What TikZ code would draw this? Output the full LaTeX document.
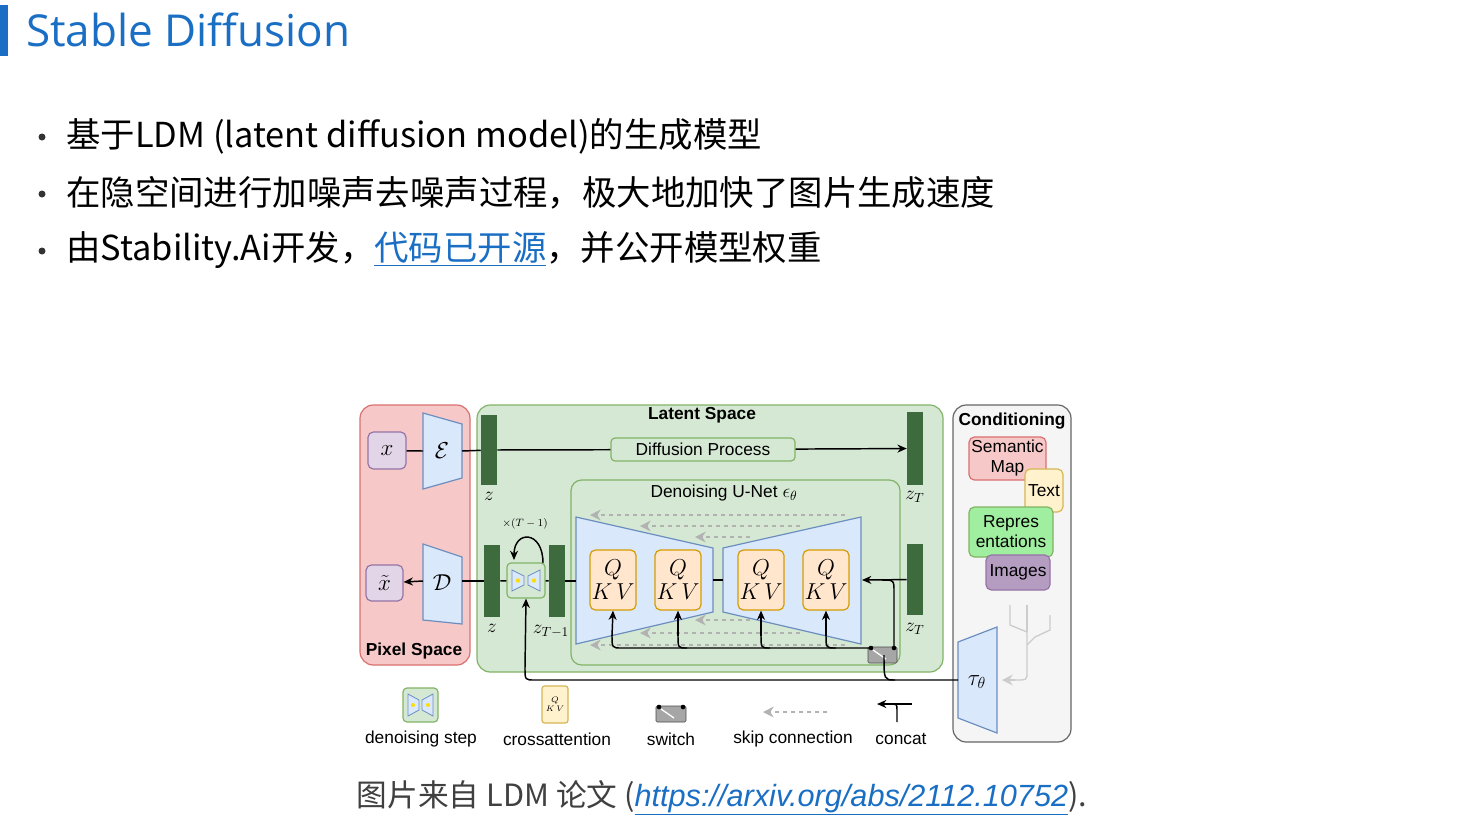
\documentclass[tikz,border=0pt]{standalone}
\usepackage{fontspec}
\setmainfont{Liberation Sans}
\newfontfamily\cjk{Noto Sans CJK SC}
\newfontfamily\titlefont{Open Sans}
\newfontfamily\capfont{Noto Sans CJK SC}
\usetikzlibrary{arrows.meta}
\definecolor{pfill}{HTML}{F6C9C8}\definecolor{pline}{HTML}{D9706F}
\definecolor{gfill}{HTML}{D5E8D4}\definecolor{gline}{HTML}{82B366}
\definecolor{bfill}{HTML}{DAE8FC}\definecolor{bline}{HTML}{6C8EBF}
\definecolor{ofill}{HTML}{FFE6CC}\definecolor{oline}{HTML}{D79B00}
\definecolor{vfill}{HTML}{E1D5E7}\definecolor{vline}{HTML}{9673A6}
\definecolor{yfill}{HTML}{FFF2CC}\definecolor{yline}{HTML}{D6B656}
\definecolor{dbar}{HTML}{3E6B3E}\definecolor{tblue}{HTML}{1A6FC4}
\newcommand\bx[7]{\pgfmathsetmacro\myW{(#4-#2)*0.75}\pgfmathsetmacro\myH{(#5-#3)*0.75}%
\node[#6,minimum width=\myW pt,minimum height=\myH pt,inner sep=0pt] (#1) at ({(#2+#4)/2},{(#3+#5)/2}) {#7};}
\tikzset{
 rbox/.style={draw,rounded corners=4pt,line width=0.9pt},
 bar/.style={fill=dbar,draw=none},
 qkv/.style={rbox,fill=ofill,draw=oline,font=\fontsize{16}{17}\selectfont,align=center},
 trap/.style={fill=bfill,draw=bline,line width=0.9pt},
 arr/.style={-{Stealth[length=7pt,width=6pt]},line width=1.1pt},
 ln/.style={line width=1.1pt},
 skip/.style={gray!60,dashed,line width=1pt,-{Stealth[length=8pt,width=8pt]}},
 lbl/.style={font=\bfseries\fontsize{13}{15}\selectfont},
 lg/.style={font=\fontsize{13}{15}\selectfont},
 mth/.style={font=\fontsize{14}{16}\selectfont},
 bul/.style={anchor=west,font=\cjk\fontsize{25.8}{28}\selectfont},
}
\begin{document}
\begin{tikzpicture}[x=0.75pt,y=-0.75pt]
\useasboundingbox (0,0) rectangle (1461,819);
\fill[white] (0,0) rectangle (1461,819);
% title
\fill[tblue] (0,5) rectangle (8,56);
\node[anchor=west,text=tblue,font=\titlefont\fontsize{33}{40}\selectfont,inner sep=0pt] (title) at (26,30) {Stable Diffusion};
\fill[black!80] (42,137) circle (3.5) (42,194) circle (3.5) (42,251) circle (3.5);
\node[bul,inner sep=0pt] (b1) at (66,136) {基于LDM (latent diffusion model)的生成模型};
\node[bul,inner sep=0pt] (b2) at (66,193) {在隐空间进行加噪声去噪声过程，极大地加快了图片生成速度};
\node[bul,inner sep=0pt] (b3) at (66,250) {由Stability.Ai开发，{\color{tblue}\underline{代码已开源}}，并公开模型权重};
% big boxes
\bx{pix}{360}{405}{470}{665}{rbox,fill=pfill,draw=pline,rounded corners=10pt}{}
\bx{lat}{477}{405}{943}{672}{rbox,fill=gfill,draw=gline,rounded corners=10pt}{}
\bx{cond}{953}{405}{1071}{742}{rbox,fill=gray!8,draw=gray!80!black,rounded corners=10pt}{}
\node[lbl] (latl) at (702,415) {Latent Space};
\node[lbl] (pixl) at (414,651) {Pixel Space};
\node[lbl] (condl) at (1012,421) {Conditioning};
\bx{unet}{571}{480}{900}{665}{rbox,fill=gfill,draw=gline,rounded corners=8pt}{}
\node[lg] (unetl) at (724,493) {Denoising U-Net {\fontsize{14}{16}\selectfont$\epsilon_\theta$}};
% skip connections
\foreach \y/\a/\b in {515/845/590,526/800/640,537/750/695,620/750/695,633/800/640,645/845/590}
  \draw[skip] (\a,\y) -- (\b,\y);
% x, encoder
\bx{x}{368}{432}{406}{469}{rbox,fill=vfill,draw=vline,font=\fontsize{17}{18}\selectfont}{$x$}
\bx{xt}{366}{565}{403}{601}{rbox,fill=vfill,draw=vline,font=\fontsize{17}{18}\selectfont}{$\tilde{x}$}
\draw[trap] (423,413) -- (462,424) -- (462,478) -- (423,489) -- cycle;
\node[font=\fontsize{18}{20}\selectfont] (enc) at (442,451) {$\mathcal{E}$};
\draw[trap] (423,544) -- (462,557) -- (462,624) -- (423,620) -- cycle;
\node[font=\fontsize{18}{20}\selectfont] (dec) at (442,583) {$\mathcal{D}$};
% bars
\bx{z1}{481}{415}{497}{485}{bar}{}
\bx{z2}{484}{545}{500}{617}{bar}{}
\bx{z3}{549}{545}{565}{617}{bar}{}
\bx{zt1}{907}{412}{923}{485}{bar}{}
\bx{zt2}{907}{544}{923}{615}{bar}{}
\node[mth] (lz1) at (489,496) {$z$};
\node[mth] (lz2) at (492,628) {$z$};
\node[mth] (lz3) at (551,631) {$z_{T-1}$};
\node[mth] (lzt1) at (915,497) {$z_T$};
\node[mth] (lzt2) at (915,629) {$z_T$};
% diffusion process
\bx{dp}{611}{438}{795}{461}{rbox,fill=gfill,draw=gline,rounded corners=3pt,lg}{Diffusion Process}
\draw[ln] (x) -- (423,451);
\draw[ln] (462,451) -- (z1);
\draw[ln] (z1) -- (dp);
\draw[arr] (dp) -- (zt1);
% denoising step
\bx{ds}{507}{563}{545}{598}{rbox,fill=gfill,draw=gline,rounded corners=3pt}{}
\draw[bline,fill=bfill,line width=0.6pt] (512,570) -- (524,576) -- (524,585) -- (512,591) -- cycle;
\draw[bline,fill=bfill,line width=0.6pt] (540,570) -- (528,576) -- (528,585) -- (540,591) -- cycle;
\fill[yellow!80!orange] (518,580.5) circle (2.2) (534,580.5) circle (2.2);
\draw[ln] (z2) -- (462,581);
\draw[arr] (423,581) -- (xt);
\draw[ln] (z2) -- (ds);
\draw[ln] (ds) -- (z3);
\draw[arr] (543,563) .. controls (543,530) and (514,530) .. (514,560);
\node[font=\fontsize{8}{9}\selectfont] (tm) at (525,524) {$\times(T-1)$};
% unet trapezoids
\draw[trap] (576,517) -- (713,548) -- (713,612) -- (576,644) -- cycle;
\draw[trap] (723,548) -- (861,517) -- (861,644) -- (723,612) -- cycle;
\draw[ln] (z3) -- (576,581);
\draw[ln] (713,580) -- (723,580);
\bx{q1}{590}{550}{636}{610}{qkv}{$Q$\\[1pt]$K\,V$}
\bx{q2}{655}{550}{701}{610}{qkv}{$Q$\\[1pt]$K\,V$}
\bx{q3}{738}{550}{784}{610}{qkv}{$Q$\\[1pt]$K\,V$}
\bx{q4}{803}{550}{849}{610}{qkv}{$Q$\\[1pt]$K\,V$}
% switch
\bx{sw}{868}{647}{897}{663}{fill=gray!70,draw=gray!60!black,rounded corners=1pt}{}
\draw[white,line width=1pt] (873,650) -- (886,659);
\fill (871,648) circle (2.3) (894,648) circle (2.3);
\draw[ln] (871,648) -- (622,648) .. controls (612,648) .. (612,635);
\draw[arr] (612,636) -- (q1.south);
\draw[ln] (687,648) .. controls (678,648) .. (678,635);
\draw[arr] (678,636) -- (q2.south);
\draw[ln] (770,648) .. controls (761,648) .. (761,635);
\draw[arr] (761,636) -- (q3.south);
\draw[ln] (836,648) .. controls (826,648) .. (826,635);
\draw[arr] (826,636) -- (q4.south);
\draw[ln] (894,648) -- (894,592) .. controls (894,580) .. (882,580);
\draw[arr] (zt2) -- (862,580);
\draw[ln] (884,655) .. controls (884,680) .. (895,680);
% tau
\draw[trap] (958,642) -- (997,627) -- (997,733) -- (958,718) -- cycle;
\node[mth,font=\fontsize{17}{18}\selectfont] (tau) at (977,682) {$\tau_\theta$};
\draw[ln] (958,680) -- (535,680) .. controls (525,680) .. (525,668);
\draw[arr] (525,668) -- (ds.south);
% conditioning items
\bx{sem}{969}{437}{1046}{480}{rbox,fill=pfill,draw=pline,lg,align=center}{Semantic\\Map}
\bx{txt}{1025}{469}{1063}{512}{rbox,fill=yfill,draw=yline,lg}{Text}
\bx{rep}{969}{507}{1053}{557}{rbox,fill=green!25!gfill,draw=gline,lg,align=center}{Repres\\entations}
\bx{img}{986}{555}{1050}{590}{rbox,fill=vline!70,draw=vline,lg}{Images}
\draw[gray!40,line width=1pt] (1010,605) -- (1010,625) -- (1027,632) -- (1027,672) .. controls (1027,680) .. (1015,680);
\draw[gray!40,line width=1pt] (1027,605) -- (1027,632);
\draw[gray!40,line width=1pt] (1050,615) -- (1050,630) -- (1035,637) -- (1027,645);
\draw[gray!40,-{Stealth[length=8pt,width=8pt]},line width=1pt] (1015,680) -- (1002,680);
% legend
\bx{lds}{403}{688}{438}{722}{rbox,fill=gfill,draw=gline,rounded corners=3pt}{}
\draw[bline,fill=bfill,line width=0.6pt] (408,694) -- (419,700) -- (419,710) -- (408,716) -- cycle;
\draw[bline,fill=bfill,line width=0.6pt] (433,694) -- (422,700) -- (422,710) -- (433,716) -- cycle;
\fill[yellow!80!orange] (413,705) circle (2) (428,705) circle (2);
\bx{lca}{542}{686}{568}{723}{rbox,fill=yfill,draw=yline,rounded corners=2pt,font=\fontsize{6}{7}\selectfont,align=center}{$Q$\\$K\,V$}
\bx{lsw}{656}{706}{686}{722}{fill=gray!70,draw=gray!60!black,rounded corners=1pt}{}
\draw[white,line width=1pt] (661,709) -- (674,718);
\fill (659,707) circle (2.3) (683,707) circle (2.3);
\coordinate (sk1) at (827,712); \coordinate (sk2) at (763,712);
\draw[skip] (sk1) -- (sk2);
\coordinate (c1) at (897,722); \coordinate (c2) at (877,704);
\draw[ln] (c1) -- (897,710) .. controls (897,704) .. (890,704);
\draw[arr] (912,704) -- (c2);
\node[lg] (l1) at (421,739) {denoising step};
\node[lg] (l2) at (557,739) {crossattention};
\node[lg] (l3) at (671,739) {switch};
\node[lg] (l4) at (793,739) {skip connection};
\node[lg] (l5) at (901,739) {concat};
% caption
\node[font=\capfont\fontsize{23}{26}\selectfont,text=black!75] (cap) at (722,798) {图片来自 LDM 论文 ({\rmfamily\itshape\color{tblue}\underline{https://arxiv.org/abs/2112.10752}}).};
\end{tikzpicture}
\end{document}
